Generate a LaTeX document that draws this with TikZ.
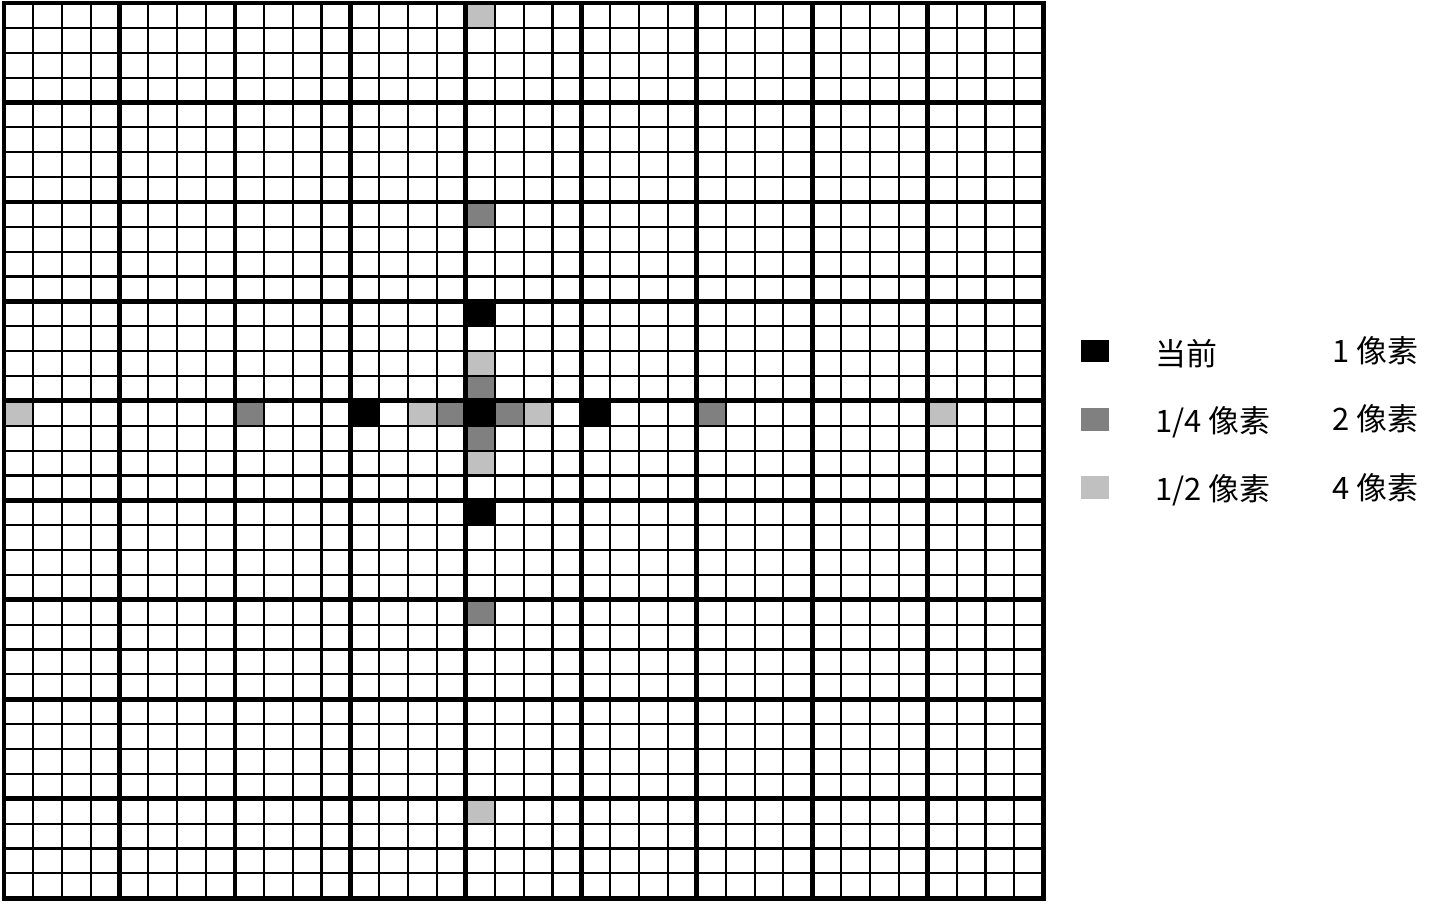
\documentclass[tikz,border=0pt]{standalone}
\usepackage{fontspec}
\setmainfont{Noto Sans CJK SC}
\usetikzlibrary{positioning}

\definecolor{quarterpel}{HTML}{808080}
\definecolor{halfpel}{HTML}{C0C0C0}

\tikzset{
  fine/.style={line width=1.5pt},
  coarse/.style={line width=3.4pt,line cap=rect},
  key/.style={minimum width=0.7cm,minimum height=0.57cm,inner sep=0pt},
  legendtext/.style={inner sep=0pt,font=\fontsize{22pt}{26pt}\selectfont}
}

\begin{document}
\begin{tikzpicture}[x=0.025cm,y=-0.025cm]
\useasboundingbox (0,0) rectangle (1440,904);

\begin{scope}[shift={(4,3)},x=0.7215cm,y=-0.6215cm]
% search points round the centre block
\foreach \d/\c in {0/black,1/quarterpel,2/halfpel,4/black,8/quarterpel,16/halfpel}{
  \fill[\c] (16+\d,16) rectangle +(1,1);
  \fill[\c] (16-\d,16) rectangle +(1,1);
  \fill[\c] (16,16+\d) rectangle +(1,1);
  \fill[\c] (16,16-\d) rectangle +(1,1);
}
\foreach \i in {0,...,36}{
  \draw[fine] (\i,0) -- (\i,36);
  \draw[fine] (0,\i) -- (36,\i);
}
\foreach \i in {0,4,...,36}{
  \draw[coarse] (\i,0) -- (\i,36);
  \draw[coarse] (0,\i) -- (36,\i);
}
\end{scope}

\node[key,fill=black] (cur) at (1095,351) {};
\node[key,fill=quarterpel,below=1.12cm of cur] (quarter) {};
\node[key,fill=halfpel,below=1.12cm of quarter] (half) {};

\node[legendtext,right=1.15cm of cur,yshift=-2pt] (cur text) {当前};
\node[legendtext,right=1.15cm of quarter,yshift=-2pt] (quarter text) {1/4 像素};
\node[legendtext,right=1.15cm of half,yshift=-2pt] (half text) {1/2 像素};

\coordinate (col2) at (1419,0);
\node[legendtext,anchor=east] (one) at (cur -| col2) {1 像素};
\node[legendtext,anchor=east] (two) at (quarter -| col2) {2 像素};
\node[legendtext,anchor=east] (four) at (half -| col2) {4 像素};
\end{tikzpicture}
\end{document}
